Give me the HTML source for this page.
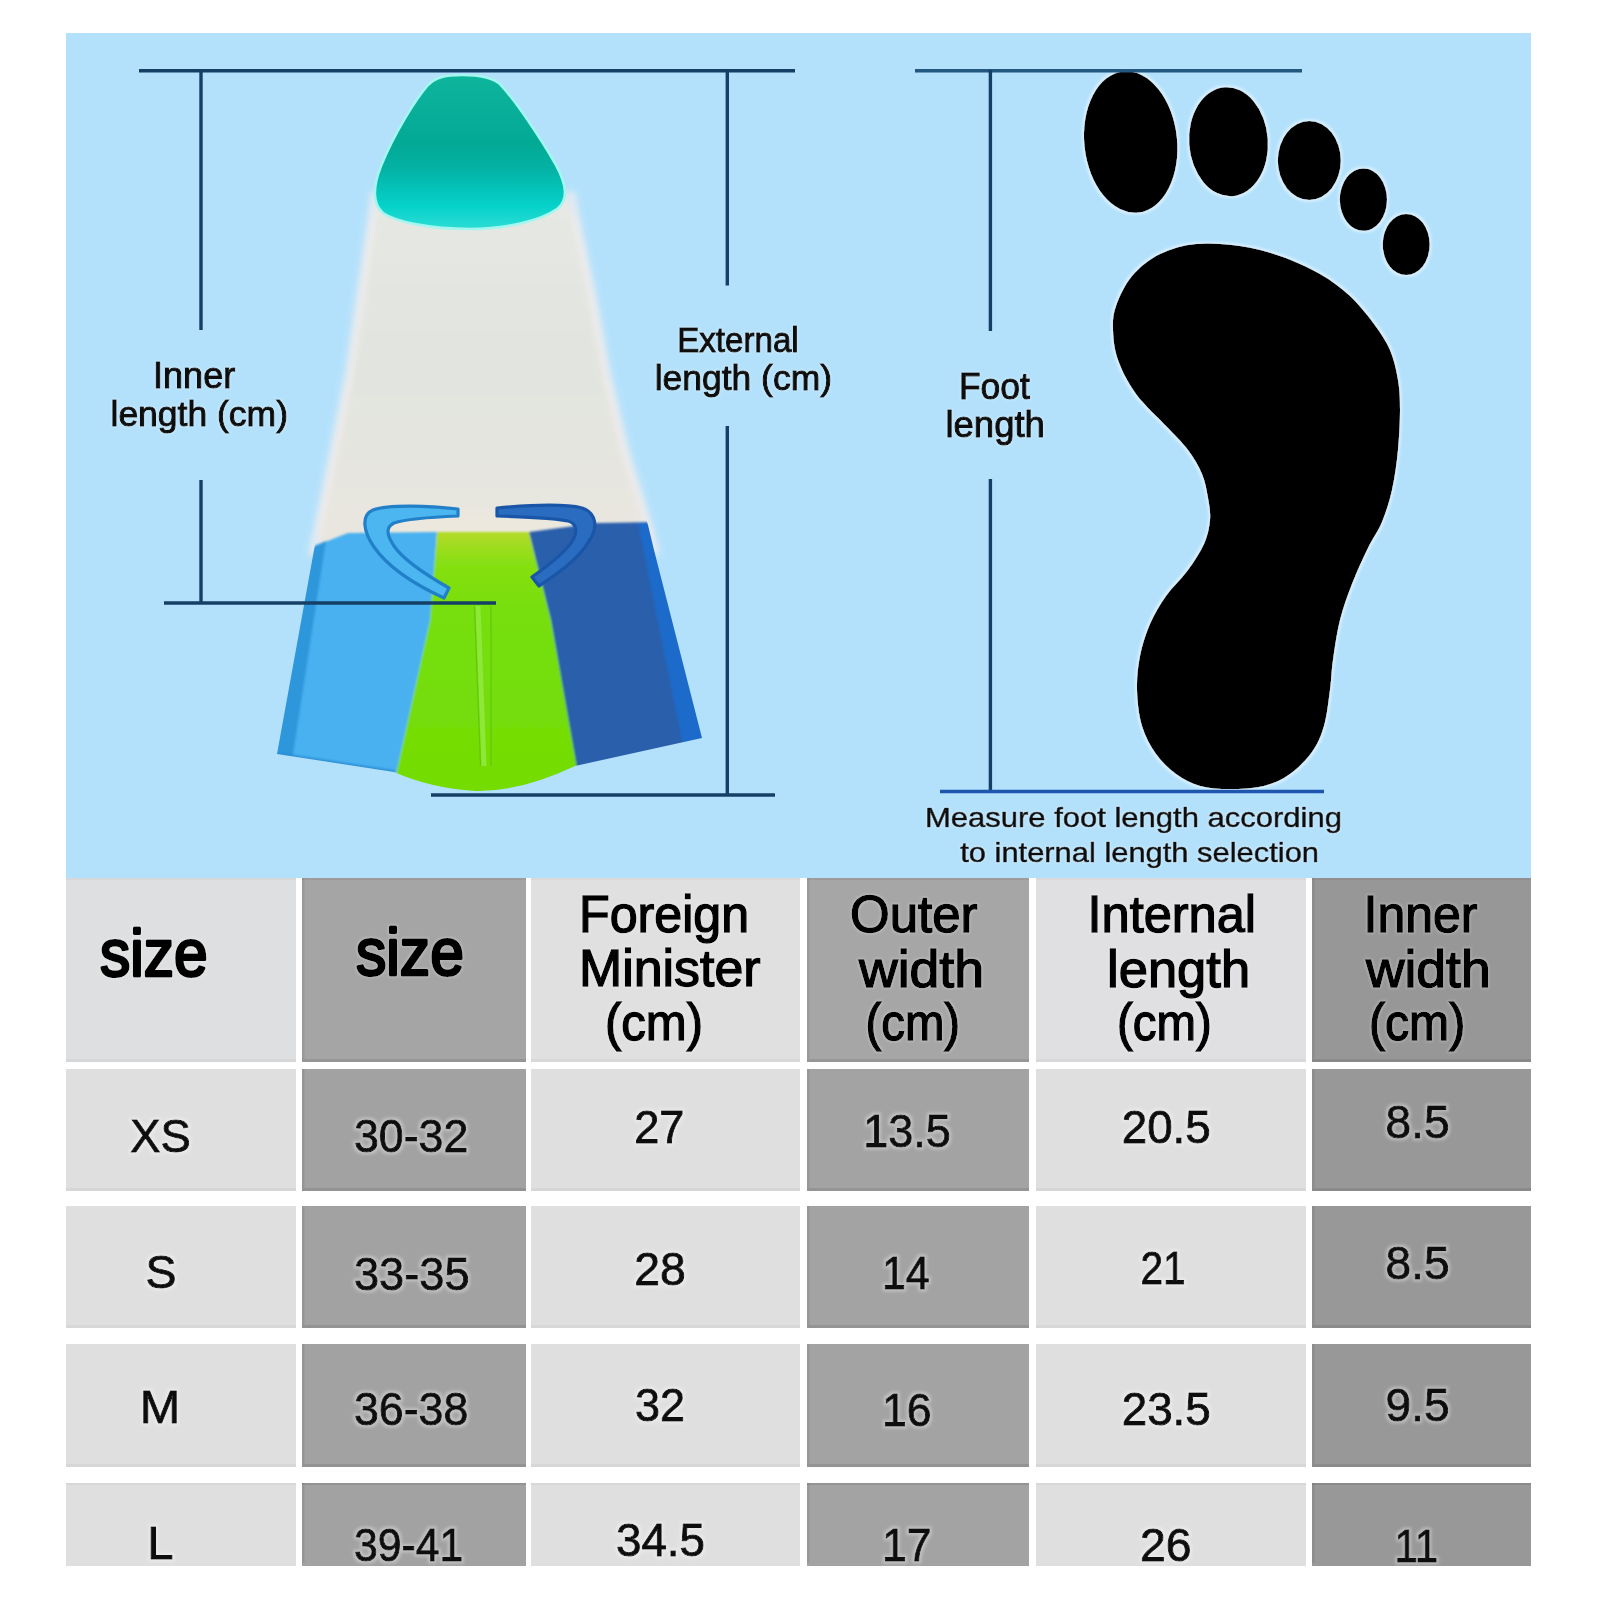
<!DOCTYPE html>
<html><head><meta charset="utf-8"><title>Swim fin size chart</title>
<style>
html,body{margin:0;padding:0;background:#fff;}
body{width:1600px;height:1600px;overflow:hidden;}
svg{display:block;}
.lab{font-family:"Liberation Sans",Arial,sans-serif;font-weight:400;fill:#0a0a0a;stroke:#0a0a0a;stroke-width:1.1px;}
.lab2{font-family:"Liberation Sans",Arial,sans-serif;font-weight:400;fill:#0a0a0a;stroke:#0a0a0a;stroke-width:0.6px;}
.hd{font-family:"Liberation Sans",Arial,sans-serif;font-weight:400;fill:#050505;stroke:#050505;stroke-width:1.6px;}
.hd2{font-family:"Liberation Sans",Arial,sans-serif;font-weight:400;fill:#050505;stroke:#050505;stroke-width:3px;stroke-linejoin:round;}
.dt{font-family:"Liberation Sans",Arial,sans-serif;font-weight:400;fill:#080808;stroke:#080808;stroke-width:1.0px;}
</style></head><body>
<svg width="1600" height="1600" viewBox="0 0 1600 1600">
<defs>
<linearGradient id="gTeal" x1="0" y1="0" x2="0" y2="1">
<stop offset="0" stop-color="#0fb49c"/><stop offset="0.45" stop-color="#02a995"/><stop offset="0.62" stop-color="#04b3a6"/><stop offset="0.85" stop-color="#05d2ca"/><stop offset="1" stop-color="#2cdcd4"/>
</linearGradient>
<linearGradient id="gBody" x1="0" y1="0" x2="0" y2="1">
<stop offset="0" stop-color="#e5e8e3"/><stop offset="0.5" stop-color="#e1e4df"/><stop offset="1" stop-color="#e9e6df"/>
</linearGradient>
<linearGradient id="gGreen" gradientUnits="userSpaceOnUse" x1="0" y1="532" x2="0" y2="800">
<stop offset="0" stop-color="#b4da2a"/><stop offset="0.12" stop-color="#86e012"/><stop offset="0.3" stop-color="#76df08"/><stop offset="1" stop-color="#74dc06"/>
</linearGradient>
<clipPath id="finClip"><path d="M378,200 L568,200 L577,225 L593,300 L607,375 L625,450 L648,525 L654,550 L702,738 L575,766 Q520,792 475,791 Q430,788 394,772 L277,754 L314,550 L319,525 L334,450 L349,375 L360,300 L371,225 Z"/></clipPath>
<filter id="soft" x="-5%" y="-5%" width="110%" height="110%"><feGaussianBlur stdDeviation="1.2"/></filter>
<filter id="blur2" x="-10%" y="-10%" width="120%" height="120%"><feGaussianBlur stdDeviation="2.2"/></filter>
<filter id="blur3" x="-20%" y="-20%" width="140%" height="140%"><feGaussianBlur stdDeviation="3"/></filter>
<filter id="halo" x="-10%" y="-30%" width="120%" height="160%"><feMorphology in="SourceAlpha" operator="dilate" radius="1.6" result="d"/><feGaussianBlur in="d" stdDeviation="1.4" result="b"/><feFlood flood-color="#ffffff" flood-opacity="0.33"/><feComposite in2="b" operator="in" result="h"/><feMerge><feMergeNode in="h"/><feMergeNode in="SourceGraphic"/></feMerge></filter>
<filter id="halo2" x="-10%" y="-30%" width="120%" height="160%"><feMorphology in="SourceAlpha" operator="dilate" radius="1.2" result="d"/><feGaussianBlur in="d" stdDeviation="1.2" result="b"/><feFlood flood-color="#ffffff" flood-opacity="0.22"/><feComposite in2="b" operator="in" result="h"/><feMerge><feMergeNode in="h"/><feMergeNode in="SourceGraphic"/></feMerge></filter>
<filter id="halo3" x="-10%" y="-10%" width="120%" height="120%"><feMorphology in="SourceAlpha" operator="dilate" radius="1.5" result="d"/><feGaussianBlur in="d" stdDeviation="1.3" result="b"/><feFlood flood-color="#ffffff" flood-opacity="0.45"/><feComposite in2="b" operator="in" result="h"/><feMerge><feMergeNode in="h"/><feMergeNode in="SourceGraphic"/></feMerge></filter>
<filter id="blur6" x="-50%" y="-10%" width="200%" height="120%"><feGaussianBlur stdDeviation="6"/></filter>
</defs>
<rect x="0" y="0" width="1600" height="1600" fill="#ffffff"/>
<rect x="66" y="33" width="1465" height="845" fill="#b3e1fc"/>

<path d="M380,186 L563,186 L570,205 L577,225 L593,300 L607,375 L625,450 L648,525 L652,538 L318,546 L319,525 L334,450 L349,375 L360,300 L371,225 L376,205 Z" fill="url(#gBody)" filter="url(#blur2)"/>
<path d="M375,195 L371,225 L360,300 L349,375 L334,450 L319,525 L313,552" fill="none" stroke="#f2eded" stroke-width="9" stroke-linecap="round" opacity="0.8" filter="url(#blur3)"/>
<path d="M571,195 L577,225 L593,300 L607,375 L625,450 L648,525 L655,552" fill="none" stroke="#f2eded" stroke-width="9" stroke-linecap="round" opacity="0.8" filter="url(#blur3)"/>
<g clip-path="url(#finClip)">
<path d="M380,512 L590,512 L585,545 L380,545 Z" fill="#ece8de" filter="url(#blur3)"/>
<g filter="url(#soft)">
<path d="M250,549 L312,547 L348,533 L437,532 L430,620 L397,770 L392,790 L250,790 Z" fill="#49b1f0"/>
<path d="M250,549 L312,547 L326,541 L290,775 L250,775 Z" fill="#2e97dc"/>
<path d="M437,532 L529,532 L551,620 L578,768 L578,800 L390,800 L397,770 L430,620 Z" fill="url(#gGreen)"/>
<path d="M529,532 L597,523 L660,522 L720,770 L577,768 L551,620 Z" fill="#2b5eab"/>
<path d="M638,523 L660,522 L720,770 L688,770 Z" fill="#1e6bca"/>
<path d="M276,754 L395,772" stroke="#2b8ed6" stroke-width="3.5" fill="none"/>
</g>
<path d="M478,606 L484,766" stroke="#8ee83a" stroke-width="5" fill="none"/>
<path d="M474.5,606 L480.5,766" stroke="#62c80c" stroke-width="1.2" fill="none"/>
<path d="M491,606 L491,766" stroke="#62c80c" stroke-width="1.2" fill="none"/>
<path d="M458,509 C430,506 390,504 373,510 C361,515 363,531 374,547 C390,570 420,587 444,598 L449,588 C428,576 404,561 394,546 C386,534 386,527 394,523 C406,519 432,517 458,516 Z" fill="#4cb6f0" stroke="#2280c8" stroke-width="3.2" stroke-linejoin="round"/>
<path d="M497,508 C530,505 566,504 582,508 C597,513 598,528 589,541 C579,559 557,574 539,586 L532,577 C549,565 566,552 573,540 C578,531 576,523 568,521 C554,518 528,517 497,516 Z" fill="#2a6cc0" stroke="#1a56a8" stroke-width="3.2" stroke-linejoin="round"/>
</g>
<path d="M462,75 C480,75 492,77 500,84 C515,100 540,137 556,165 C567,185 569,200 557,209 C540,221 505,229 470,229 C430,229 396,222 383,213 C372,204 373,186 381,166 C394,134 415,100 428,85 C436,77 446,75 462,75 Z" fill="url(#gTeal)" stroke="#a4f6ee" stroke-width="2.6"/>
<g fill="#000000" filter="url(#halo3)">
<ellipse cx="1130.7" cy="142" rx="46.4" ry="71" transform="rotate(-6 1130.7 142)"/>
<ellipse cx="1228.5" cy="141.7" rx="39.4" ry="54.6" transform="rotate(-4 1228.5 141.7)"/>
<ellipse cx="1309.3" cy="160.5" rx="31.5" ry="39.5"/>
<ellipse cx="1363.4" cy="199.6" rx="23.6" ry="31.2"/>
<ellipse cx="1406.2" cy="244.5" rx="23.5" ry="30.6"/>
<path d="M1196.0,244.0 C1209.3,242.7 1226.0,244.0 1240.0,246.0 C1254.0,248.0 1266.7,251.3 1280.0,256.0 C1293.3,260.7 1308.3,267.3 1320.0,274.0 C1331.7,280.7 1341.0,287.7 1350.0,296.0 C1359.0,304.3 1367.3,315.0 1374.0,324.0 C1380.7,333.0 1386.0,340.7 1390.0,350.0 C1394.0,359.3 1396.3,370.0 1398.0,380.0 C1399.7,390.0 1400.0,398.3 1400.0,410.0 C1400.0,421.7 1399.3,436.7 1398.0,450.0 C1396.7,463.3 1394.7,478.0 1392.0,490.0 C1389.3,502.0 1386.0,512.3 1382.0,522.0 C1378.0,531.7 1373.0,537.7 1368.0,548.0 C1363.0,558.3 1356.7,572.0 1352.0,584.0 C1347.3,596.0 1343.2,607.3 1340.0,620.0 C1336.8,632.7 1334.7,648.3 1333.0,660.0 C1331.3,671.7 1331.5,679.0 1330.0,690.0 C1328.5,701.0 1327.0,715.7 1324.0,726.0 C1321.0,736.3 1317.7,744.0 1312.0,752.0 C1306.3,760.0 1298.0,768.3 1290.0,774.0 C1282.0,779.7 1274.0,783.5 1264.0,786.0 C1254.0,788.5 1240.7,789.0 1230.0,789.0 C1219.3,789.0 1209.0,788.5 1200.0,786.0 C1191.0,783.5 1183.3,779.3 1176.0,774.0 C1168.7,768.7 1161.7,762.0 1156.0,754.0 C1150.3,746.0 1145.2,736.7 1142.0,726.0 C1138.8,715.3 1137.3,701.7 1137.0,690.0 C1136.7,678.3 1137.8,667.0 1140.0,656.0 C1142.2,645.0 1145.7,634.0 1150.0,624.0 C1154.3,614.0 1159.7,605.0 1166.0,596.0 C1172.3,587.0 1181.7,578.7 1188.0,570.0 C1194.3,561.3 1200.3,552.3 1204.0,544.0 C1207.7,535.7 1209.3,527.7 1210.0,520.0 C1210.7,512.3 1209.3,505.7 1208.0,498.0 C1206.7,490.3 1205.3,482.0 1202.0,474.0 C1198.7,466.0 1194.0,458.0 1188.0,450.0 C1182.0,442.0 1174.7,435.3 1166.0,426.0 C1157.3,416.7 1144.0,405.0 1136.0,394.0 C1128.0,383.0 1121.8,370.7 1118.0,360.0 C1114.2,349.3 1113.3,339.0 1113.0,330.0 C1112.7,321.0 1112.8,315.0 1116.0,306.0 C1119.2,297.0 1124.7,284.7 1132.0,276.0 C1139.3,267.3 1149.3,259.3 1160.0,254.0 C1170.7,248.7 1182.7,245.3 1196.0,244.0Z"/>
</g>
<line x1="139" y1="70.8" x2="795" y2="70.8" stroke="#163f66" stroke-width="3.4" stroke-linecap="butt"/>
<line x1="201" y1="70" x2="201" y2="330" stroke="#163f66" stroke-width="3.4" stroke-linecap="butt"/>
<line x1="201" y1="480" x2="201" y2="603" stroke="#163f66" stroke-width="3.4" stroke-linecap="butt"/>
<line x1="164" y1="603" x2="496" y2="603" stroke="#163f66" stroke-width="3.4" stroke-linecap="butt"/>
<line x1="727.3" y1="70" x2="727.3" y2="285.5" stroke="#163f66" stroke-width="3.4" stroke-linecap="butt"/>
<line x1="727.3" y1="426" x2="727.3" y2="795" stroke="#163f66" stroke-width="3.4" stroke-linecap="butt"/>
<line x1="431" y1="795" x2="775" y2="795" stroke="#163f66" stroke-width="3.4" stroke-linecap="butt"/>
<line x1="915" y1="70.8" x2="1302" y2="70.8" stroke="#22577f" stroke-width="3.6" stroke-linecap="butt"/>
<line x1="990.4" y1="70" x2="990.4" y2="331" stroke="#163f66" stroke-width="3.4" stroke-linecap="butt"/>
<line x1="990.4" y1="479" x2="990.4" y2="791" stroke="#163f66" stroke-width="3.4" stroke-linecap="butt"/>
<line x1="940" y1="791.5" x2="1324" y2="791.5" stroke="#1f56ad" stroke-width="3.4"/>
<rect x="66" y="878" width="230" height="184" fill="#dddfe1"/>
<rect x="66" y="1059" width="230" height="3" fill="#000" fill-opacity="0.035"/>
<rect x="66" y="878" width="230" height="2" fill="#6a5a50" fill-opacity="0.05"/>
<rect x="302" y="878" width="224" height="184" fill="#a5a5a5"/>
<rect x="302" y="1059" width="224" height="3" fill="#000" fill-opacity="0.09"/>
<rect x="302" y="878" width="2.5" height="181" fill="#000" fill-opacity="0.072"/>
<rect x="302" y="878" width="224" height="2" fill="#6a5a50" fill-opacity="0.12"/>
<rect x="531" y="878" width="269" height="184" fill="#e0e0e0"/>
<rect x="531" y="1059" width="269" height="3" fill="#000" fill-opacity="0.035"/>
<rect x="531" y="878" width="269" height="2" fill="#6a5a50" fill-opacity="0.05"/>
<rect x="807" y="878" width="222" height="184" fill="#a6a6a6"/>
<rect x="807" y="1059" width="222" height="3" fill="#000" fill-opacity="0.09"/>
<rect x="807" y="878" width="2.5" height="181" fill="#000" fill-opacity="0.072"/>
<rect x="807" y="878" width="222" height="2" fill="#6a5a50" fill-opacity="0.12"/>
<rect x="1036" y="878" width="270" height="184" fill="#e0dfe2"/>
<rect x="1036" y="1059" width="270" height="3" fill="#000" fill-opacity="0.035"/>
<rect x="1036" y="878" width="270" height="2" fill="#6a5a50" fill-opacity="0.05"/>
<rect x="1312" y="878" width="219" height="184" fill="#979798"/>
<rect x="1312" y="1059" width="219" height="3" fill="#000" fill-opacity="0.09"/>
<rect x="1312" y="878" width="2.5" height="181" fill="#000" fill-opacity="0.072"/>
<rect x="1312" y="878" width="219" height="2" fill="#6a5a50" fill-opacity="0.12"/>
<rect x="66" y="1069" width="230" height="122" fill="#dfdfdf"/>
<rect x="66" y="1188" width="230" height="3" fill="#000" fill-opacity="0.035"/>
<rect x="302" y="1069" width="224" height="122" fill="#a2a2a2"/>
<rect x="302" y="1188" width="224" height="3" fill="#000" fill-opacity="0.09"/>
<rect x="302" y="1069" width="2.5" height="119" fill="#000" fill-opacity="0.072"/>
<rect x="531" y="1069" width="269" height="122" fill="#dfdfdf"/>
<rect x="531" y="1188" width="269" height="3" fill="#000" fill-opacity="0.035"/>
<rect x="807" y="1069" width="222" height="122" fill="#a3a3a3"/>
<rect x="807" y="1188" width="222" height="3" fill="#000" fill-opacity="0.09"/>
<rect x="807" y="1069" width="2.5" height="119" fill="#000" fill-opacity="0.072"/>
<rect x="1036" y="1069" width="270" height="122" fill="#dfdfdf"/>
<rect x="1036" y="1188" width="270" height="3" fill="#000" fill-opacity="0.035"/>
<rect x="1312" y="1069" width="219" height="122" fill="#989898"/>
<rect x="1312" y="1188" width="219" height="3" fill="#000" fill-opacity="0.09"/>
<rect x="1312" y="1069" width="2.5" height="119" fill="#000" fill-opacity="0.072"/>
<rect x="66" y="1206" width="230" height="122" fill="#dfdfdf"/>
<rect x="66" y="1325" width="230" height="3" fill="#000" fill-opacity="0.035"/>
<rect x="302" y="1206" width="224" height="122" fill="#a2a2a2"/>
<rect x="302" y="1325" width="224" height="3" fill="#000" fill-opacity="0.09"/>
<rect x="302" y="1206" width="2.5" height="119" fill="#000" fill-opacity="0.072"/>
<rect x="531" y="1206" width="269" height="122" fill="#dfdfdf"/>
<rect x="531" y="1325" width="269" height="3" fill="#000" fill-opacity="0.035"/>
<rect x="807" y="1206" width="222" height="122" fill="#a3a3a3"/>
<rect x="807" y="1325" width="222" height="3" fill="#000" fill-opacity="0.09"/>
<rect x="807" y="1206" width="2.5" height="119" fill="#000" fill-opacity="0.072"/>
<rect x="1036" y="1206" width="270" height="122" fill="#dfdfdf"/>
<rect x="1036" y="1325" width="270" height="3" fill="#000" fill-opacity="0.035"/>
<rect x="1312" y="1206" width="219" height="122" fill="#989898"/>
<rect x="1312" y="1325" width="219" height="3" fill="#000" fill-opacity="0.09"/>
<rect x="1312" y="1206" width="2.5" height="119" fill="#000" fill-opacity="0.072"/>
<rect x="66" y="1344" width="230" height="123" fill="#dfdfdf"/>
<rect x="66" y="1464" width="230" height="3" fill="#000" fill-opacity="0.035"/>
<rect x="302" y="1344" width="224" height="123" fill="#a2a2a2"/>
<rect x="302" y="1464" width="224" height="3" fill="#000" fill-opacity="0.09"/>
<rect x="302" y="1344" width="2.5" height="120" fill="#000" fill-opacity="0.072"/>
<rect x="531" y="1344" width="269" height="123" fill="#dfdfdf"/>
<rect x="531" y="1464" width="269" height="3" fill="#000" fill-opacity="0.035"/>
<rect x="807" y="1344" width="222" height="123" fill="#a3a3a3"/>
<rect x="807" y="1464" width="222" height="3" fill="#000" fill-opacity="0.09"/>
<rect x="807" y="1344" width="2.5" height="120" fill="#000" fill-opacity="0.072"/>
<rect x="1036" y="1344" width="270" height="123" fill="#dfdfdf"/>
<rect x="1036" y="1464" width="270" height="3" fill="#000" fill-opacity="0.035"/>
<rect x="1312" y="1344" width="219" height="123" fill="#989898"/>
<rect x="1312" y="1464" width="219" height="3" fill="#000" fill-opacity="0.09"/>
<rect x="1312" y="1344" width="2.5" height="120" fill="#000" fill-opacity="0.072"/>
<rect x="66" y="1483" width="230" height="83" fill="#dfdfdf"/>
<rect x="66" y="1483" width="230" height="2" fill="#000" fill-opacity="0.035"/>
<rect x="302" y="1483" width="224" height="83" fill="#a2a2a2"/>
<rect x="302" y="1483" width="224" height="2" fill="#000" fill-opacity="0.09"/>
<rect x="302" y="1483" width="2.5" height="80" fill="#000" fill-opacity="0.072"/>
<rect x="531" y="1483" width="269" height="83" fill="#dfdfdf"/>
<rect x="531" y="1483" width="269" height="2" fill="#000" fill-opacity="0.035"/>
<rect x="807" y="1483" width="222" height="83" fill="#a3a3a3"/>
<rect x="807" y="1483" width="222" height="2" fill="#000" fill-opacity="0.09"/>
<rect x="807" y="1483" width="2.5" height="80" fill="#000" fill-opacity="0.072"/>
<rect x="1036" y="1483" width="270" height="83" fill="#dfdfdf"/>
<rect x="1036" y="1483" width="270" height="2" fill="#000" fill-opacity="0.035"/>
<rect x="1312" y="1483" width="219" height="83" fill="#989898"/>
<rect x="1312" y="1483" width="219" height="2" fill="#000" fill-opacity="0.09"/>
<rect x="1312" y="1483" width="2.5" height="80" fill="#000" fill-opacity="0.072"/>
<text class="lab" filter="url(#halo2)" x="153.00" y="388.00" font-size="36.5" textLength="82.20" lengthAdjust="spacingAndGlyphs">Inner</text>
<text class="lab" filter="url(#halo2)" x="110.50" y="426.00" font-size="35.5" textLength="177.50" lengthAdjust="spacingAndGlyphs">length (cm)</text>
<text class="lab" filter="url(#halo2)" x="677.20" y="352.00" font-size="35.5" textLength="121.50" lengthAdjust="spacingAndGlyphs">External</text>
<text class="lab" filter="url(#halo2)" x="654.70" y="390.00" font-size="35.5" textLength="177.30" lengthAdjust="spacingAndGlyphs">length (cm)</text>
<text class="lab" filter="url(#halo2)" x="959.00" y="399.40" font-size="36" textLength="70.80" lengthAdjust="spacingAndGlyphs">Foot</text>
<text class="lab" filter="url(#halo2)" x="945.50" y="437.20" font-size="36" textLength="99.30" lengthAdjust="spacingAndGlyphs">length</text>
<text class="lab2" filter="url(#halo2)" x="924.90" y="827.20" font-size="28" textLength="417.10" lengthAdjust="spacingAndGlyphs">Measure foot length according</text>
<text class="lab2" filter="url(#halo2)" x="960.20" y="861.60" font-size="28" textLength="358.80" lengthAdjust="spacingAndGlyphs">to internal length selection</text>
<text class="hd2" filter="url(#halo2)" x="100.00" y="975.60" font-size="66" textLength="107.60" lengthAdjust="spacingAndGlyphs">size</text>
<text class="hd2" filter="url(#halo2)" x="356.00" y="975.10" font-size="66" textLength="108.00" lengthAdjust="spacingAndGlyphs">size</text>
<text class="hd" filter="url(#halo2)" x="579.00" y="931.70" font-size="51.5" textLength="170.20" lengthAdjust="spacingAndGlyphs">Foreign</text>
<text class="hd" filter="url(#halo2)" x="579.00" y="986.40" font-size="51.5" textLength="181.60" lengthAdjust="spacingAndGlyphs">Minister</text>
<text class="hd" filter="url(#halo2)" x="605.00" y="1040.00" font-size="51.5" textLength="98.00" lengthAdjust="spacingAndGlyphs">(cm)</text>
<text class="hd" filter="url(#halo2)" x="850.10" y="931.70" font-size="51.5" textLength="127.40" lengthAdjust="spacingAndGlyphs">Outer</text>
<text class="hd" filter="url(#halo2)" x="859.00" y="987.00" font-size="51.5" textLength="125.00" lengthAdjust="spacingAndGlyphs">width</text>
<text class="hd" filter="url(#halo2)" x="865.50" y="1040.00" font-size="51.5" textLength="94.50" lengthAdjust="spacingAndGlyphs">(cm)</text>
<text class="hd" filter="url(#halo2)" x="1087.50" y="931.50" font-size="51.5" textLength="168.50" lengthAdjust="spacingAndGlyphs">Internal</text>
<text class="hd" filter="url(#halo2)" x="1107.00" y="986.60" font-size="51.5" textLength="143.10" lengthAdjust="spacingAndGlyphs">length</text>
<text class="hd" filter="url(#halo2)" x="1117.00" y="1040.00" font-size="51.5" textLength="94.80" lengthAdjust="spacingAndGlyphs">(cm)</text>
<text class="hd" filter="url(#halo2)" x="1363.50" y="931.70" font-size="51.5" textLength="114.00" lengthAdjust="spacingAndGlyphs">Inner</text>
<text class="hd" filter="url(#halo2)" x="1365.90" y="987.00" font-size="51.5" textLength="124.70" lengthAdjust="spacingAndGlyphs">width</text>
<text class="hd" filter="url(#halo2)" x="1369.00" y="1040.00" font-size="51.5" textLength="96.20" lengthAdjust="spacingAndGlyphs">(cm)</text>
<text class="dt" filter="url(#halo)" x="130.25" y="1152.00" font-size="46" textLength="60.50" lengthAdjust="spacingAndGlyphs">XS</text>
<text class="dt" filter="url(#halo)" x="354.00" y="1152.00" font-size="46" textLength="114.25" lengthAdjust="spacingAndGlyphs">30-32</text>
<text class="dt" filter="url(#halo)" x="634.25" y="1142.50" font-size="46" textLength="50.25" lengthAdjust="spacingAndGlyphs">27</text>
<text class="dt" filter="url(#halo)" x="863.25" y="1147.00" font-size="46" textLength="87.50" lengthAdjust="spacingAndGlyphs">13.5</text>
<text class="dt" filter="url(#halo)" x="1121.75" y="1143.00" font-size="46" textLength="89.00" lengthAdjust="spacingAndGlyphs">20.5</text>
<text class="dt" filter="url(#halo)" x="1385.50" y="1138.00" font-size="46" textLength="64.00" lengthAdjust="spacingAndGlyphs">8.5</text>
<text class="dt" filter="url(#halo)" x="145.50" y="1287.50" font-size="46" textLength="31.00" lengthAdjust="spacingAndGlyphs">S</text>
<text class="dt" filter="url(#halo)" x="354.00" y="1290.00" font-size="46" textLength="115.50" lengthAdjust="spacingAndGlyphs">33-35</text>
<text class="dt" filter="url(#halo)" x="634.25" y="1284.50" font-size="46" textLength="51.50" lengthAdjust="spacingAndGlyphs">28</text>
<text class="dt" filter="url(#halo)" x="882.00" y="1288.75" font-size="46" textLength="47.75" lengthAdjust="spacingAndGlyphs">14</text>
<text class="dt" filter="url(#halo)" x="1140.50" y="1283.75" font-size="46" textLength="45.25" lengthAdjust="spacingAndGlyphs">21</text>
<text class="dt" filter="url(#halo)" x="1385.50" y="1278.75" font-size="46" textLength="64.00" lengthAdjust="spacingAndGlyphs">8.5</text>
<text class="dt" filter="url(#halo)" x="139.75" y="1423.00" font-size="46" textLength="40.50" lengthAdjust="spacingAndGlyphs">M</text>
<text class="dt" filter="url(#halo)" x="354.00" y="1425.00" font-size="46" textLength="114.25" lengthAdjust="spacingAndGlyphs">36-38</text>
<text class="dt" filter="url(#halo)" x="635.00" y="1421.25" font-size="46" textLength="50.00" lengthAdjust="spacingAndGlyphs">32</text>
<text class="dt" filter="url(#halo)" x="882.00" y="1426.25" font-size="46" textLength="49.50" lengthAdjust="spacingAndGlyphs">16</text>
<text class="dt" filter="url(#halo)" x="1121.75" y="1425.00" font-size="46" textLength="89.00" lengthAdjust="spacingAndGlyphs">23.5</text>
<text class="dt" filter="url(#halo)" x="1385.50" y="1420.50" font-size="46" textLength="64.00" lengthAdjust="spacingAndGlyphs">9.5</text>
<text class="dt" filter="url(#halo)" x="147.25" y="1558.75" font-size="46" textLength="26.25" lengthAdjust="spacingAndGlyphs">L</text>
<text class="dt" filter="url(#halo)" x="354.00" y="1560.50" font-size="46" textLength="109.25" lengthAdjust="spacingAndGlyphs">39-41</text>
<text class="dt" filter="url(#halo)" x="616.00" y="1556.25" font-size="46" textLength="89.00" lengthAdjust="spacingAndGlyphs">34.5</text>
<text class="dt" filter="url(#halo)" x="882.00" y="1561.25" font-size="46" textLength="49.50" lengthAdjust="spacingAndGlyphs">17</text>
<text class="dt" filter="url(#halo)" x="1140.00" y="1561.25" font-size="46" textLength="51.50" lengthAdjust="spacingAndGlyphs">26</text>
<text class="dt" filter="url(#halo)" x="1394.50" y="1562.00" font-size="46" textLength="43.75" lengthAdjust="spacingAndGlyphs">11</text>
</svg>
</body></html>
